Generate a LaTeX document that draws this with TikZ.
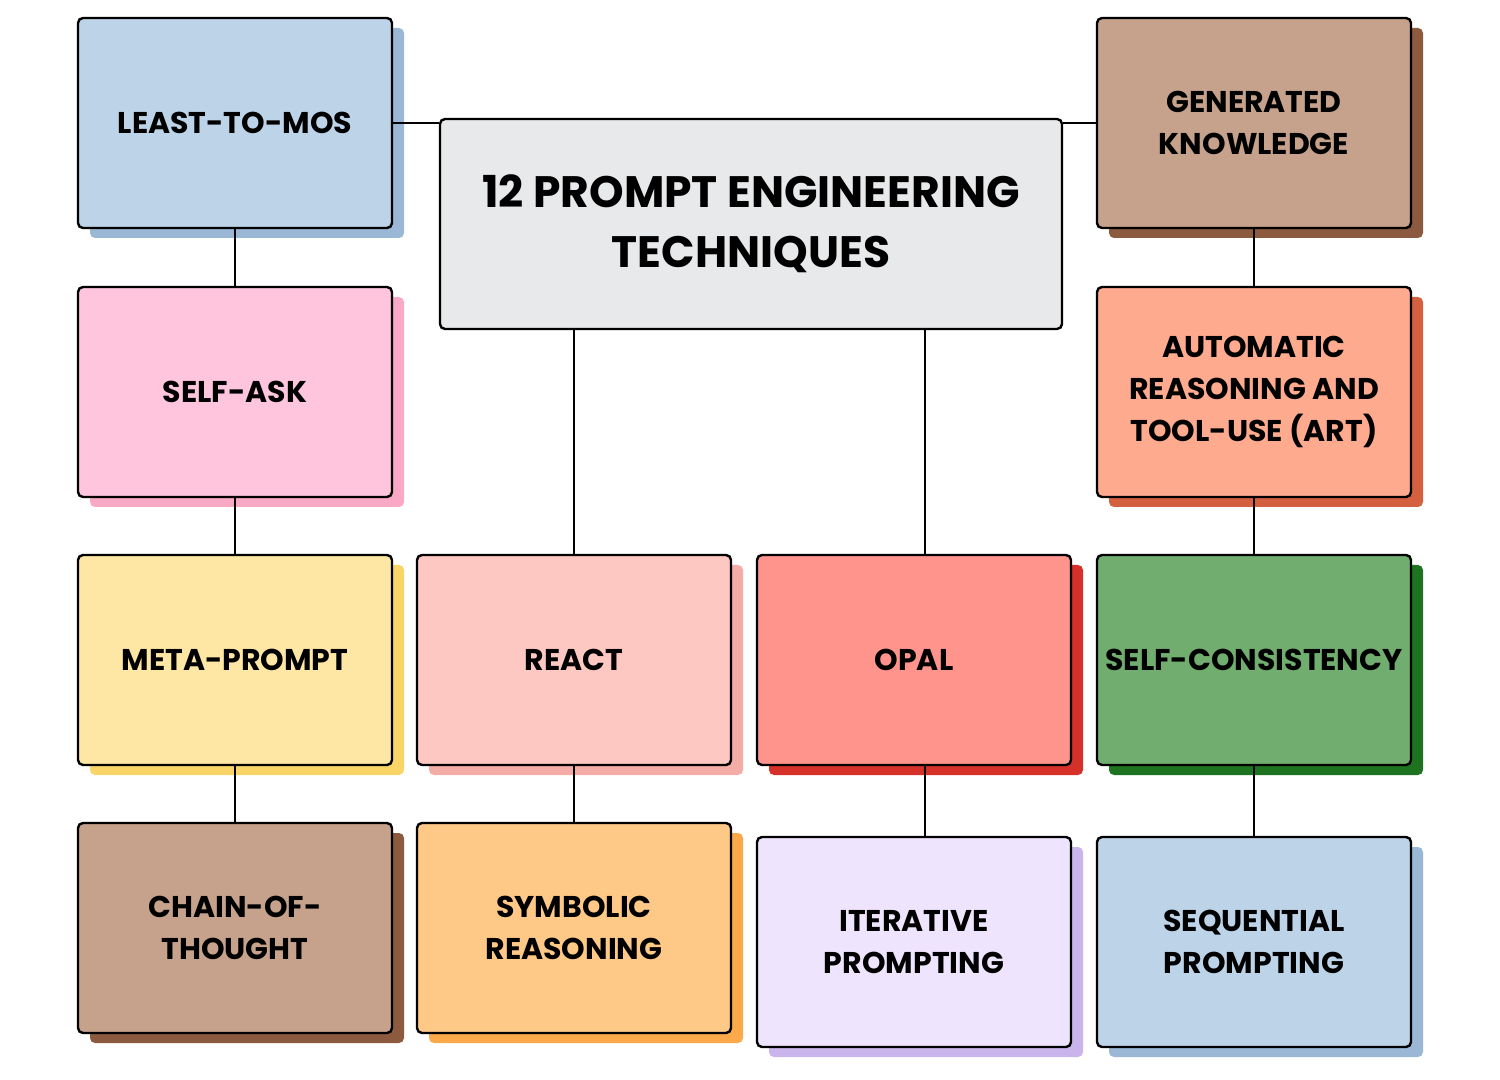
\documentclass[tikz,border=0pt]{standalone}
\usepackage{fontspec}
\setmainfont{Poppins}
\usetikzlibrary{shadows}

\definecolor{blueA}{HTML}{BDD3E8}\definecolor{blueB}{HTML}{9AB8D6}
\definecolor{pinkA}{HTML}{FEC5DC}\definecolor{pinkB}{HTML}{F9A8C6}
\definecolor{yelA}{HTML}{FEE6A4}\definecolor{yelB}{HTML}{F9D567}
\definecolor{brnA}{HTML}{C6A28C}\definecolor{brnB}{HTML}{8B5A3F}
\definecolor{roseA}{HTML}{FEC8C2}\definecolor{roseB}{HTML}{F3ACA6}
\definecolor{orgA}{HTML}{FEC886}\definecolor{orgB}{HTML}{FBA94A}
\definecolor{redA}{HTML}{FE948C}\definecolor{redB}{HTML}{D6302A}
\definecolor{lilA}{HTML}{EFE4FD}\definecolor{lilB}{HTML}{C9B5EC}
\definecolor{salA}{HTML}{FEAA8E}\definecolor{salB}{HTML}{D4603F}
\definecolor{grnA}{HTML}{70AD6E}\definecolor{grnB}{HTML}{1E7320}
\definecolor{greyA}{HTML}{E8E9EB}

\begin{document}
\begin{tikzpicture}[
x=0.5pt, y=-0.5pt,
box/.style n args={2}{rectangle, rounded corners=2.5pt, draw=black, line width=1.2pt, fill=#1,
  minimum width=157pt, minimum height=105pt, align=center, inner sep=0pt,
  font=\fontsize{15}{21}\selectfont\bfseries,
  general shadow={fill=#2, shadow xshift=6pt, shadow yshift=-5pt}},
link/.style={line width=1pt},
]
\useasboundingbox (0,0) rectangle (1500,1080);

%Nodes
\node[rectangle, rounded corners=2.5pt, draw=black, line width=1.2pt, fill=greyA,
  minimum width=311pt, minimum height=105pt, align=center,
  font=\fontsize{22}{30}\selectfont\bfseries] (title) at (751,224) {12 PROMPT ENGINEERING\\TECHNIQUES};

\node[box={blueA}{blueB}] (least) at (235,123) {LEAST-TO-MOS};
\node[box={pinkA}{pinkB}] (selfask) at (235,392) {SELF-ASK};
\node[box={yelA}{yelB}] (meta) at (235,660) {META-PROMPT};
\node[box={brnA}{brnB}] (cot) at (235,928) {CHAIN-OF-\\THOUGHT};

\node[box={roseA}{roseB}] (react) at (574,660) {REACT};
\node[box={orgA}{orgB}] (symbolic) at (574,928) {SYMBOLIC\\REASONING};

\node[box={redA}{redB}] (opal) at (914,660) {OPAL};
\node[box={lilA}{lilB}] (iter) at (914,942) {ITERATIVE\\PROMPTING};
\node[box={brnA}{brnB}] (genknow) at (1254,123) {GENERATED\\KNOWLEDGE};
\node[box={salA}{salB}] (art) at (1254,392) {AUTOMATIC\\REASONING AND\\TOOL-USE (ART)};
\node[box={grnA}{grnB}] (selfcons) at (1254,660) {SELF-CONSISTENCY};
\node[box={blueA}{blueB}] (seq) at (1254,942) {SEQUENTIAL\\PROMPTING};

%Lines
\begin{scope}[on background layer/.style={}]
\end{scope}
\draw[link] (least.east) -- (least.east -| title.west);
\draw[link] (genknow.west) -- (genknow.west -| title.east);
\draw[link] (least) -- (selfask);
\draw[link] (selfask) -- (meta);
\draw[link] (meta) -- (cot);
\draw[link] (genknow) -- (art);
\draw[link] (art) -- (selfcons);
\draw[link] (selfcons) -- (seq.north);
\draw[link] (title.south -| react.north) -- (react.north);
\draw[link] ([xshift=5.5pt]title.south -| opal.north) -- ([xshift=5.5pt]opal.north);
\draw[link] (react) -- (symbolic);
\draw[link] ([xshift=5.5pt]opal.south) -- ([xshift=5.5pt]opal.south |- iter.north);
\end{tikzpicture}
\end{document}
